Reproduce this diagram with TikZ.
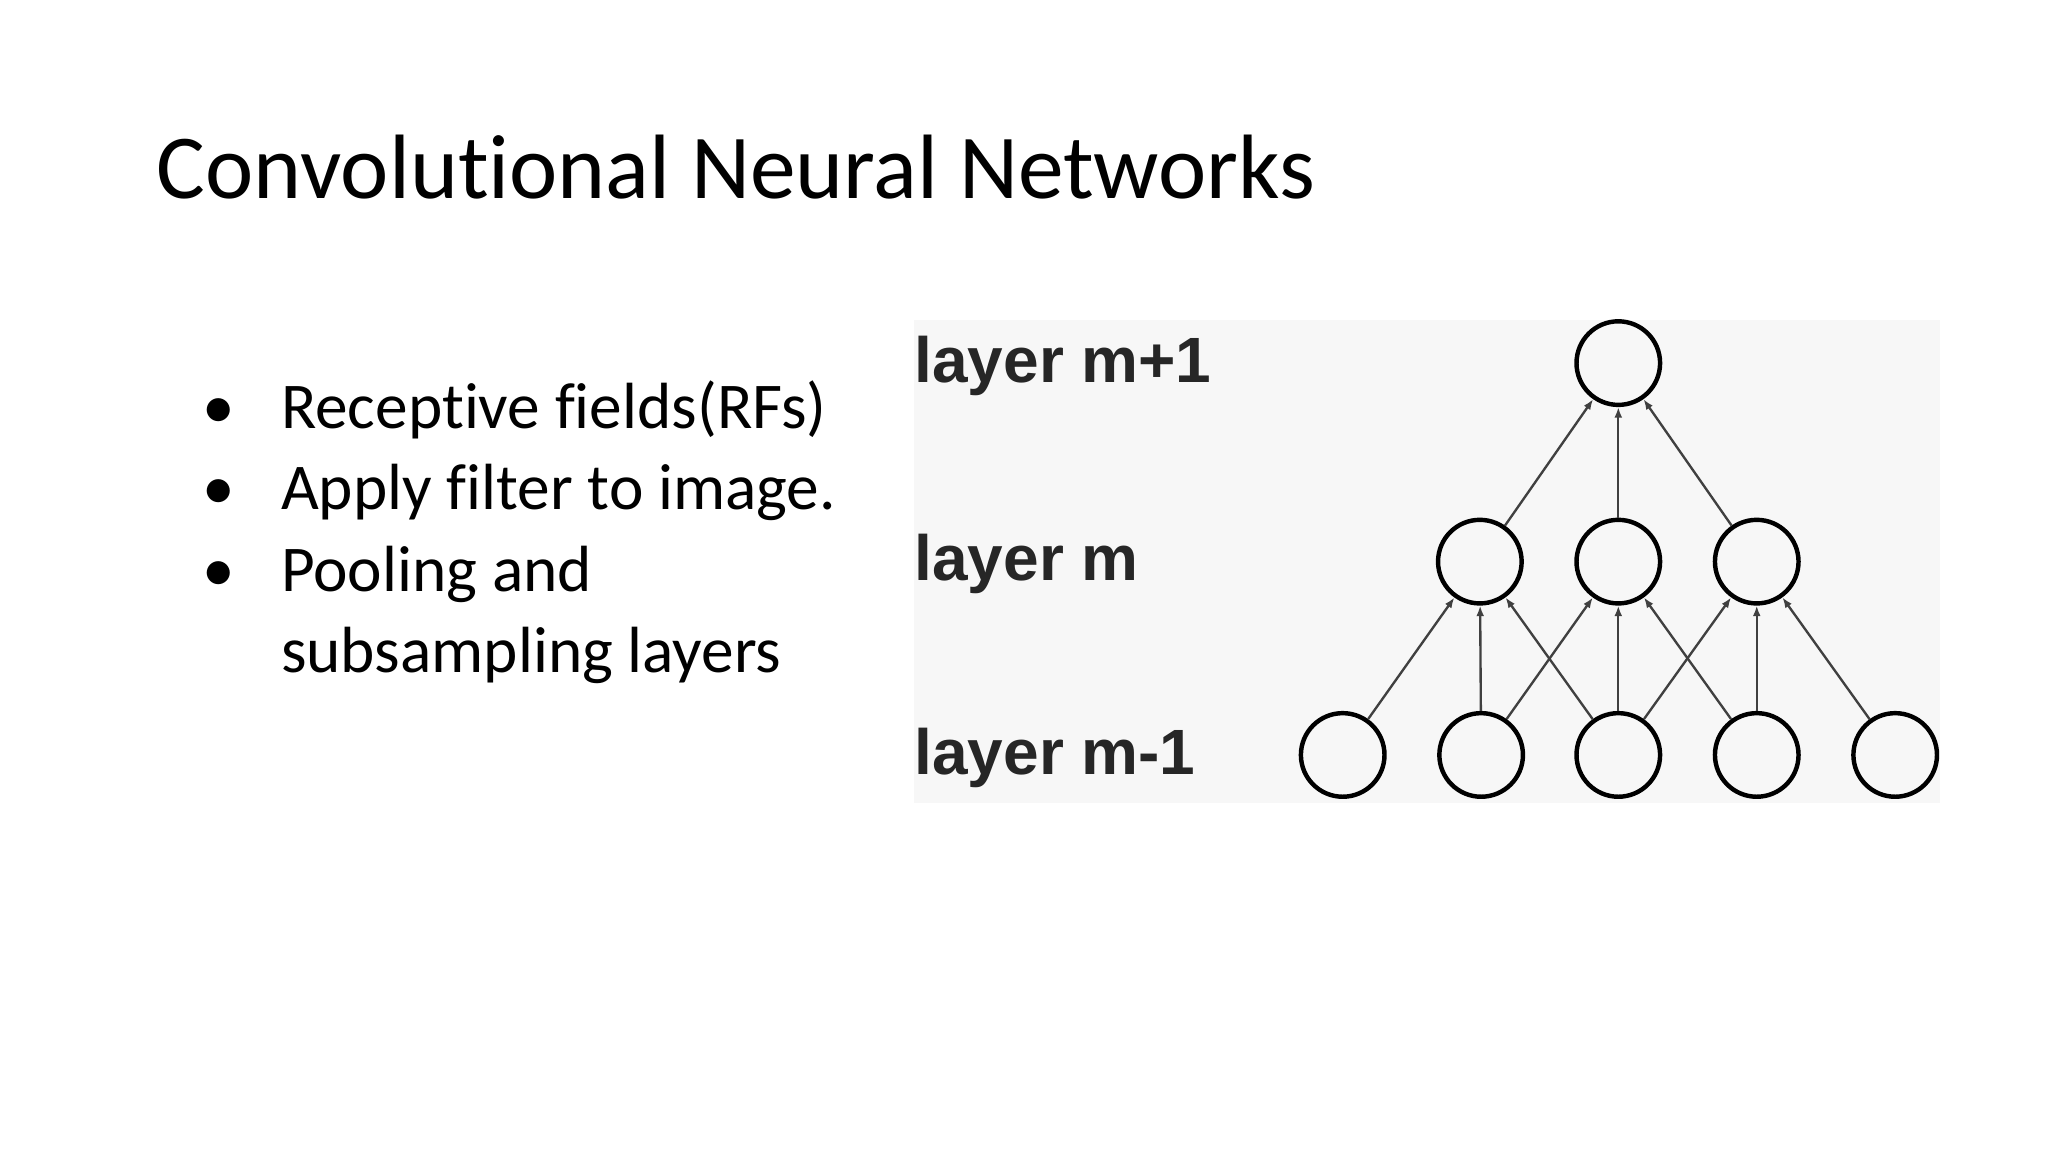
\documentclass[tikz,border=0pt]{standalone}
\usepackage{fontspec}
\setmainfont{Carlito}[Ligatures={NoCommon}]
\newfontfamily\lab{Liberation Sans}
\usetikzlibrary{arrows.meta}
\begin{document}
\begin{tikzpicture}[x=1pt,y=-1pt,
  nd/.style={circle,draw,line width=3.4pt,minimum size=64pt,inner sep=0pt},
  ar/.style={draw=black!75,line width=1.8pt,-{Latex[length=8pt,width=6pt]}},
  lb/.style={anchor=west,inner sep=0pt,font=\lab\bfseries\fontsize{49}{49}\selectfont,text=black!85},
  bl/.style={anchor=base west,inner sep=0pt,font=\fontsize{50}{50}\selectfont}]
\useasboundingbox (0,0) rectangle (1568,882);
\fill[black!3] (700,245) rectangle (1485,615);
\node[anchor=base west,font=\fontsize{70}{70}\selectfont,inner sep=0pt] (title) at (120,152) {Convolutional Neural Networks};
\node[bl] (b1) at (155,328) {•};
\node[bl] (t1) at (215,328) {Receptive fields(RFs)};
\node[bl] (b2) at (155,390) {•};
\node[bl] (t2) at (215,390) {Apply filter to image.};
\node[bl] (b3) at (155,453) {•};
\node[bl] (t3) at (215,453) {Pooling and};
\node[bl] (t4) at (215,515) {subsampling layers};
\node[lb] (l1) at (700,280) {layer m+1};
\node[lb] (l2) at (700,432) {layer m};
\node[lb] (l3) at (700,580) {layer m-1};
\node[nd] (t) at (1239,278) {};
\node[nd] (m1) at (1133,430) {};
\node[nd] (m2) at (1239,430) {};
\node[nd] (m3) at (1345,430) {};
\node[nd] (a1) at (1028,578) {};
\node[nd] (a2) at (1134,578) {};
\node[nd] (a3) at (1239,578) {};
\node[nd] (a4) at (1345,578) {};
\node[nd] (a5) at (1451,578) {};
\foreach \m in {m1,m2,m3} \draw[ar] (\m) -- (t);
\draw[ar] (a1) -- (m1); \draw[ar] (a2) -- (m1); \draw[ar] (a3) -- (m1);
\draw[ar] (a2) -- (m2); \draw[ar] (a3) -- (m2); \draw[ar] (a4) -- (m2);
\draw[ar] (a3) -- (m3); \draw[ar] (a4) -- (m3); \draw[ar] (a5) -- (m3);
\end{tikzpicture}
\end{document}
